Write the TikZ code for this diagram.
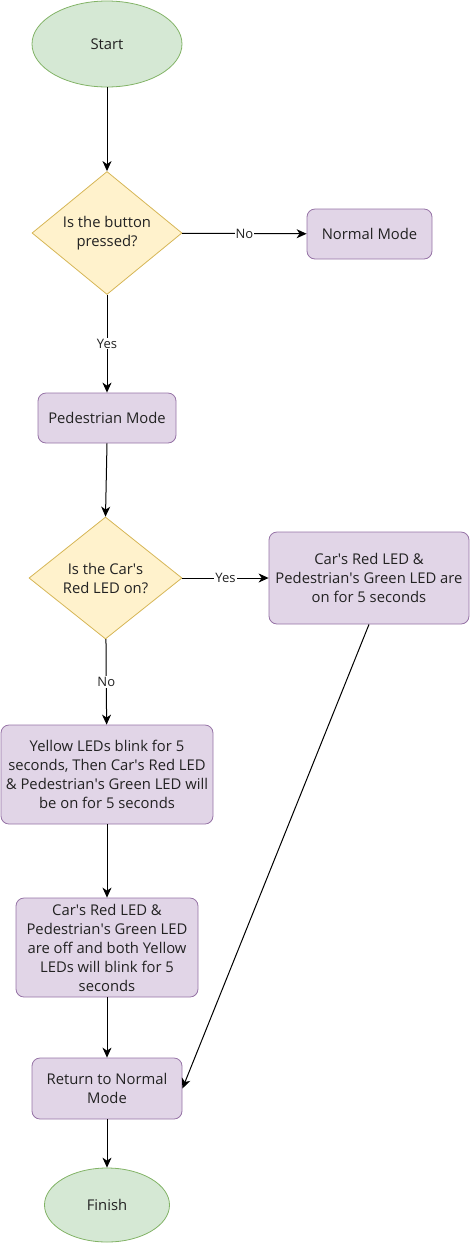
\documentclass[tikz,border=0pt]{standalone}
\usepackage{fontspec}
\setmainfont{Open Sans}
\usetikzlibrary{shapes.geometric,arrows.meta}
\definecolor{gfill}{HTML}{D5E8D4}\definecolor{gline}{HTML}{82B366}
\definecolor{yfill}{HTML}{FFF2CC}\definecolor{yline}{HTML}{D6B656}
\definecolor{pfill}{HTML}{E1D5E7}\definecolor{pline}{HTML}{9673A6}
\definecolor{txt}{HTML}{222222}
\newcommand{\q}{\textquotesingle}
\tikzset{
  base/.style={font=\fontsize{14.8}{19}\selectfont, text=txt, align=center, inner sep=0pt, line width=0.8pt},
  term/.style={base, ellipse, draw=gline, fill=gfill},
  dec/.style={base, diamond, draw=yline, fill=yfill},
  proc/.style={base, rectangle, rounded corners=8pt, draw=pline, fill=pfill},
  conn/.style={line width=1pt, -{Stealth[length=10pt,width=9pt,inset=3pt]}},
  lab/.style={font=\fontsize{13}{15}\selectfont, fill=white, inner sep=1pt, text=txt}
}
\begin{document}
\begin{tikzpicture}[x=1pt,y=-1pt]
\useasboundingbox (0,0) rectangle (470,1243);
\node[term, minimum width=150pt, minimum height=86pt] (start) at (107,44) {Start};
\node[dec, minimum width=150pt, minimum height=123pt] (q1) at (107,233) {Is the button\\pressed?};
\node[proc, minimum width=125pt, minimum height=50pt] (normal) at (369.5,234) {Normal Mode};
\node[proc, minimum width=138pt, minimum height=50pt] (ped) at (107,418) {Pedestrian Mode};
\node[dec, minimum width=153pt, minimum height=122pt] (q2) at (105.5,578) {Is the Car\q s\\Red LED on?};
\node[proc, minimum width=200pt, minimum height=92pt] (redon) at (369,578) {Car\q s Red LED \&\\Pedestrian\q s Green LED are\\on for 5 seconds};
\node[proc, minimum width=212pt, minimum height=99pt] (yellow) at (107,774.5) {Yellow LEDs blink for 5\\seconds, Then Car\q s Red LED\\\& Pedestrian\q s Green LED will\\be on for 5 seconds};
\node[proc, minimum width=182pt, minimum height=99pt] (off) at (107,947.5) {Car\q s Red LED \&\\Pedestrian\q s Green LED\\are off and both Yellow\\LEDs will blink for 5\\seconds};
\node[proc, minimum width=150pt, minimum height=61pt] (ret) at (107,1088.5) {Return to Normal\\Mode};
\node[term, minimum width=125pt, minimum height=74pt] (finish) at (107,1205) {Finish};

\draw[conn] (start) -- (q1);
\draw[conn] (q1) -- node[lab, pos=0.5]{No} (normal);
\draw[conn] (q1) -- node[lab, pos=0.5]{Yes} (ped);
\draw[conn] (ped.south) -- (q2.north);
\draw[conn] (q2) -- node[lab, pos=0.5]{Yes} (redon);
\draw[conn] (q2) -- node[lab, pos=0.5]{No} (yellow);
\draw[conn] (yellow) -- (off);
\draw[conn] (off) -- (ret);
\draw[conn] (redon.south) -- (ret.east);
\draw[conn] (ret) -- (finish);
\end{tikzpicture}
\end{document}
